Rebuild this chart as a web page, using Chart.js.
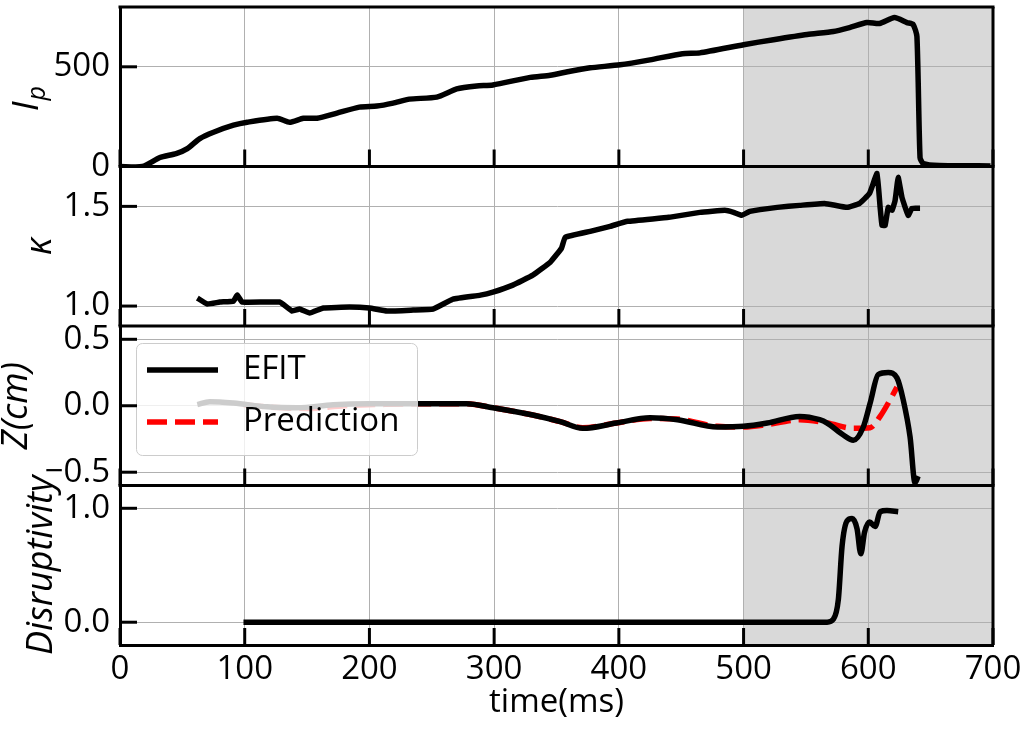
<!DOCTYPE html>
<html>
<head>
<meta charset="utf-8">
<script src="https://cdn.jsdelivr.net/npm/chart.js@4.4.1/dist/chart.umd.min.js"></script>
<style>
  html, body { margin: 0; padding: 0; background: #fff; }
  #wrap { width: 1025px; height: 733px; position: relative; }
</style>
</head>
<body>
<div id="wrap"><canvas id="c" width="1025" height="733"></canvas></div>
<script>
// ---------------- data ----------------
const xTicks = [0, 100, 200, 300, 400, 500, 600, 700];
const shadeStart = 500;
const shadeEnd = 700;

const ipTime = [0, 18, 32, 45, 54, 64, 75, 91, 102, 126, 136, 147, 158, 174, 192, 206, 219, 232, 254, 270, 286, 299, 329, 345, 361, 377, 401, 425, 451, 465, 500, 524, 551, 572, 585, 599, 609, 621, 631, 636, 639, 641.5, 644, 657, 698];
const ipValues = [0, 0, 45, 65, 90, 140, 172, 207, 222, 242, 222, 242, 242, 268, 298, 303, 318, 338, 348, 389, 404, 409, 447, 458, 478, 495, 510, 535, 566, 570, 611, 636, 662, 677, 697, 722, 717, 747, 722, 712, 652, 45, 15, 5, 3];
const ipTicks = [0, 500];

const kappaTime = [62, 70, 80, 91, 94, 98, 128, 138, 144, 152, 163, 184, 200, 214, 235, 251, 267, 289, 299, 315, 331, 345, 354, 357, 377, 393, 407, 440, 465, 485, 492, 498.5, 505, 527, 545, 565, 583, 593, 601, 607, 609.5, 611, 613.5, 616, 619, 621.5, 624, 627, 632, 635, 641.5];
const kappaValues = [1.04, 1.01, 1.02, 1.025, 1.055, 1.02, 1.02, 0.975, 0.985, 0.965, 0.99, 0.995, 0.99, 0.975, 0.98, 0.985, 1.035, 1.055, 1.07, 1.105, 1.155, 1.22, 1.29, 1.345, 1.375, 1.4, 1.425, 1.445, 1.47, 1.48, 1.47, 1.455, 1.475, 1.495, 1.505, 1.515, 1.495, 1.515, 1.565, 1.665, 1.495, 1.405, 1.405, 1.495, 1.48, 1.53, 1.645, 1.545, 1.455, 1.49, 1.49];
const kappaTicks = [1.0, 1.5];

const zEfitTime = [62, 72, 91, 118, 142, 171, 200, 238, 278, 299, 331, 353, 371, 398, 425, 447, 479, 500, 519, 545, 561, 567, 580, 588, 596, 601.5, 608, 616, 623, 628, 633.5, 637.5, 640];
const zEfitValues = [0.008, 0.03, 0.02, -0.008, -0.015, 0.008, 0.015, 0.015, 0.015, -0.015, -0.07, -0.12, -0.17, -0.13, -0.09, -0.105, -0.16, -0.155, -0.13, -0.08, -0.105, -0.13, -0.22, -0.26, -0.16, 0.02, 0.235, 0.25, 0.21, 0.045, -0.235, -0.58, -0.53];
const zPredTime = [99, 120, 150, 180, 210, 238, 278, 299, 331, 353, 371, 398, 425, 447, 479, 500, 520, 545, 567, 588, 601.5, 609.5, 617.5, 623];
const zPredValues = [0.01, -0.01, -0.02, 0.0, 0.01, 0.015, 0.015, -0.015, -0.07, -0.12, -0.165, -0.13, -0.095, -0.1, -0.155, -0.16, -0.14, -0.105, -0.13, -0.17, -0.165, -0.08, 0.045, 0.14];
const zTicks = [-0.5, 0.0, 0.5];

const dTime = [99, 567, 572, 576, 579, 583, 587, 591, 594, 597, 601, 605.5, 609.5, 615, 624];
const dValues = [0, 0, 0.026, 0.2, 0.67, 0.89, 0.91, 0.82, 0.6, 0.79, 0.88, 0.84, 0.97, 0.98, 0.97];
const dTicks = [0.0, 1.0];

const seriesLabels = ['Ip', 'kappa', 'EFIT', 'Prediction', 'Disruptivity'];

// ---------------- helpers ----------------
const FAM = "'Open Sans', 'DejaVu Sans', sans-serif";
const FS = 33;
const TFS = 36;
const LW = 5.5;
const pts = (xs, ys) => xs.map((t, i) => ({ x: t, y: ys[i] }));
const fmt1 = v => (v < 0 ? '\u2212' : '') + Math.abs(v).toFixed(1);

function yAxis(min, max, ticks, fmt, title, titlePad) {
  return {
    type: 'linear', position: 'left', stack: 'panels', stackWeight: 1,
    min, max,
    afterBuildTicks: s => { s.ticks = ticks.map(v => ({ value: v })); },
    afterFit: s => { s.width = 120; s.paddingTop = 0; s.paddingBottom = 0; },
    grid: { color: '#b0b0b0', lineWidth: 1, drawTicks: false },
    border: { color: '#000', width: 3 },
    ticks: { color: '#000', font: { family: FAM, size: FS }, padding: 10, callback: v => fmt(v), autoSkip: false },
    title: title ? { display: true, text: title, color: '#000', font: { family: FAM, size: TFS, style: 'italic', lineHeight: 1 }, padding: { top: titlePad, bottom: 0 } } : { display: false }
  };
}

const panelPlugin = {
  id: 'panels',
  beforeDraw(chart) {
    const { ctx, chartArea: a, scales } = chart;
    const x0 = scales.x.getPixelForValue(shadeStart), x1 = scales.x.getPixelForValue(shadeEnd);
    ctx.save();
    ctx.fillStyle = '#d9d9d9';
    ctx.fillRect(x0, a.top, x1 - x0, a.bottom - a.top);
    ctx.restore();
  },
  afterDatasetsDraw(chart) {
    const { ctx, chartArea: a, scales } = chart;
    const zs = scales.yZ;
    const bx = a.left + 16, by = zs.top + 17, bw = 281, bh = 112;
    ctx.save();
    ctx.fillStyle = 'rgba(255,255,255,0.8)';
    ctx.strokeStyle = '#cccccc';
    ctx.lineWidth = 1;
    ctx.beginPath();
    ctx.roundRect(bx + 0.5, by + 0.5, bw, bh, 6);
    ctx.fill(); ctx.stroke();
    [2, 3].forEach((di, i) => {
      const ds = chart.data.datasets[di];
      const y = by + 27 + i * 52;
      ctx.strokeStyle = ds.borderColor;
      ctx.lineWidth = ds.borderWidth;
      ctx.lineCap = 'butt';
      ctx.setLineDash(ds.borderDash || []);
      ctx.beginPath(); ctx.moveTo(bx + 11, y); ctx.lineTo(bx + 82, y); ctx.stroke();
      ctx.setLineDash([]);
      ctx.fillStyle = '#000';
      ctx.font = FS + 'px ' + FAM;
      ctx.textBaseline = 'middle';
      ctx.textAlign = 'left';
      ctx.fillText(ds.label, bx + 107, y);
    });
    ctx.restore();
  },
  afterDraw(chart) {
    const { ctx, chartArea: a, scales } = chart;
    const ys = [scales.yIp, scales.yK, scales.yZ, scales.yD];
    ctx.save();
    ctx.strokeStyle = '#000';
    ctx.lineCap = 'butt';
    ctx.lineWidth = 3;
    ys.forEach(s => {
      s.ticks.forEach(t => {
        const y = s.getPixelForValue(t.value);
        ctx.beginPath(); ctx.moveTo(a.left, y); ctx.lineTo(a.left + 17, y); ctx.stroke();
      });
      xTicks.forEach(v => {
        const x = scales.x.getPixelForValue(v);
        ctx.beginPath(); ctx.moveTo(x, s.bottom); ctx.lineTo(x, s.bottom - 17); ctx.stroke();
      });
    });
    ys.forEach(s => {
      ctx.beginPath(); ctx.moveTo(a.left - 1.5, s.top); ctx.lineTo(a.right + 1.5, s.top); ctx.stroke();
    });
    ctx.beginPath(); ctx.moveTo(a.right, a.top); ctx.lineTo(a.right, a.bottom); ctx.stroke();
    // I_p title (italic I with subscript p)
    const s = scales.yIp;
    const cy = (s.top + s.bottom) / 2 + 12;
    ctx.fillStyle = '#000';
    ctx.font = 'italic ' + TFS + 'px ' + FAM;
    const wI = ctx.measureText('I').width;
    ctx.font = 'italic 25px ' + FAM;
    const wp = ctx.measureText('p').width;
    const w = wI + 1 + wp;
    ctx.translate(38, cy + w / 2);
    ctx.rotate(-Math.PI / 2);
    ctx.textBaseline = 'alphabetic';
    ctx.textAlign = 'left';
    ctx.font = 'italic ' + TFS + 'px ' + FAM;
    ctx.fillText('I', 0, 0);
    ctx.font = 'italic 25px ' + FAM;
    ctx.fillText('p', wI + 1, 7);
    ctx.restore();
  }
};

new Chart(document.getElementById('c'), {
  type: 'line',
  data: {
    datasets: [
      { label: seriesLabels[0], data: pts(ipTime, ipValues), yAxisID: 'yIp', borderColor: '#000', borderWidth: LW, tension: 0.2 },
      { label: seriesLabels[1], data: pts(kappaTime, kappaValues), yAxisID: 'yK', borderColor: '#000', borderWidth: LW, tension: 0.1 },
      { label: seriesLabels[2], data: pts(zEfitTime, zEfitValues), yAxisID: 'yZ', borderColor: '#000', borderWidth: LW, cubicInterpolationMode: 'monotone' },
      { label: seriesLabels[3], data: pts(zPredTime, zPredValues), yAxisID: 'yZ', borderColor: '#ff0000', borderWidth: LW, borderDash: [20, 8], cubicInterpolationMode: 'monotone' },
      { label: seriesLabels[4], data: pts(dTime, dValues), yAxisID: 'yD', borderColor: '#000', borderWidth: LW, cubicInterpolationMode: 'monotone' }
    ]
  },
  options: {
    responsive: false,
    animation: false,
    events: [],
    elements: { point: { radius: 0 }, line: { borderJoinStyle: 'round', fill: false } },
    layout: { padding: { top: 7, right: 32, left: 0, bottom: 0 } },
    plugins: { legend: { display: false }, tooltip: { enabled: false }, title: { display: false } },
    scales: {
      x: {
        type: 'linear', position: 'bottom', min: 0, max: 700,
        afterBuildTicks: s => { s.ticks = xTicks.map(v => ({ value: v })); },
        afterFit: s => { s.height = 88; s.paddingLeft = 0; s.paddingRight = 0; },
        grid: { color: '#b0b0b0', lineWidth: 1, drawTicks: false },
        border: { color: '#000', width: 3 },
        ticks: { color: '#000', font: { family: FAM, size: FS }, padding: 5, maxRotation: 0, autoSkip: false, callback: v => String(v) },
        title: { display: true, text: 'time(ms)', color: '#000', font: { family: FAM, size: FS }, padding: { top: 0, bottom: 11 } }
      },
      // stacked panels: first defined is drawn at the bottom
      yD: yAxis(-0.2, 1.2, dTicks, fmt1, 'Disruptivity', 24),
      yZ: yAxis(-0.6, 0.6, zTicks, fmt1, 'Z(cm)', -1),
      yK: yAxis(0.9, 1.7, kappaTicks, fmt1, '\u03BA', 23),
      yIp: yAxis(0, 800, ipTicks, v => String(v), null, 0)
    }
  },
  plugins: [panelPlugin]
});
</script>
</body>
</html>
